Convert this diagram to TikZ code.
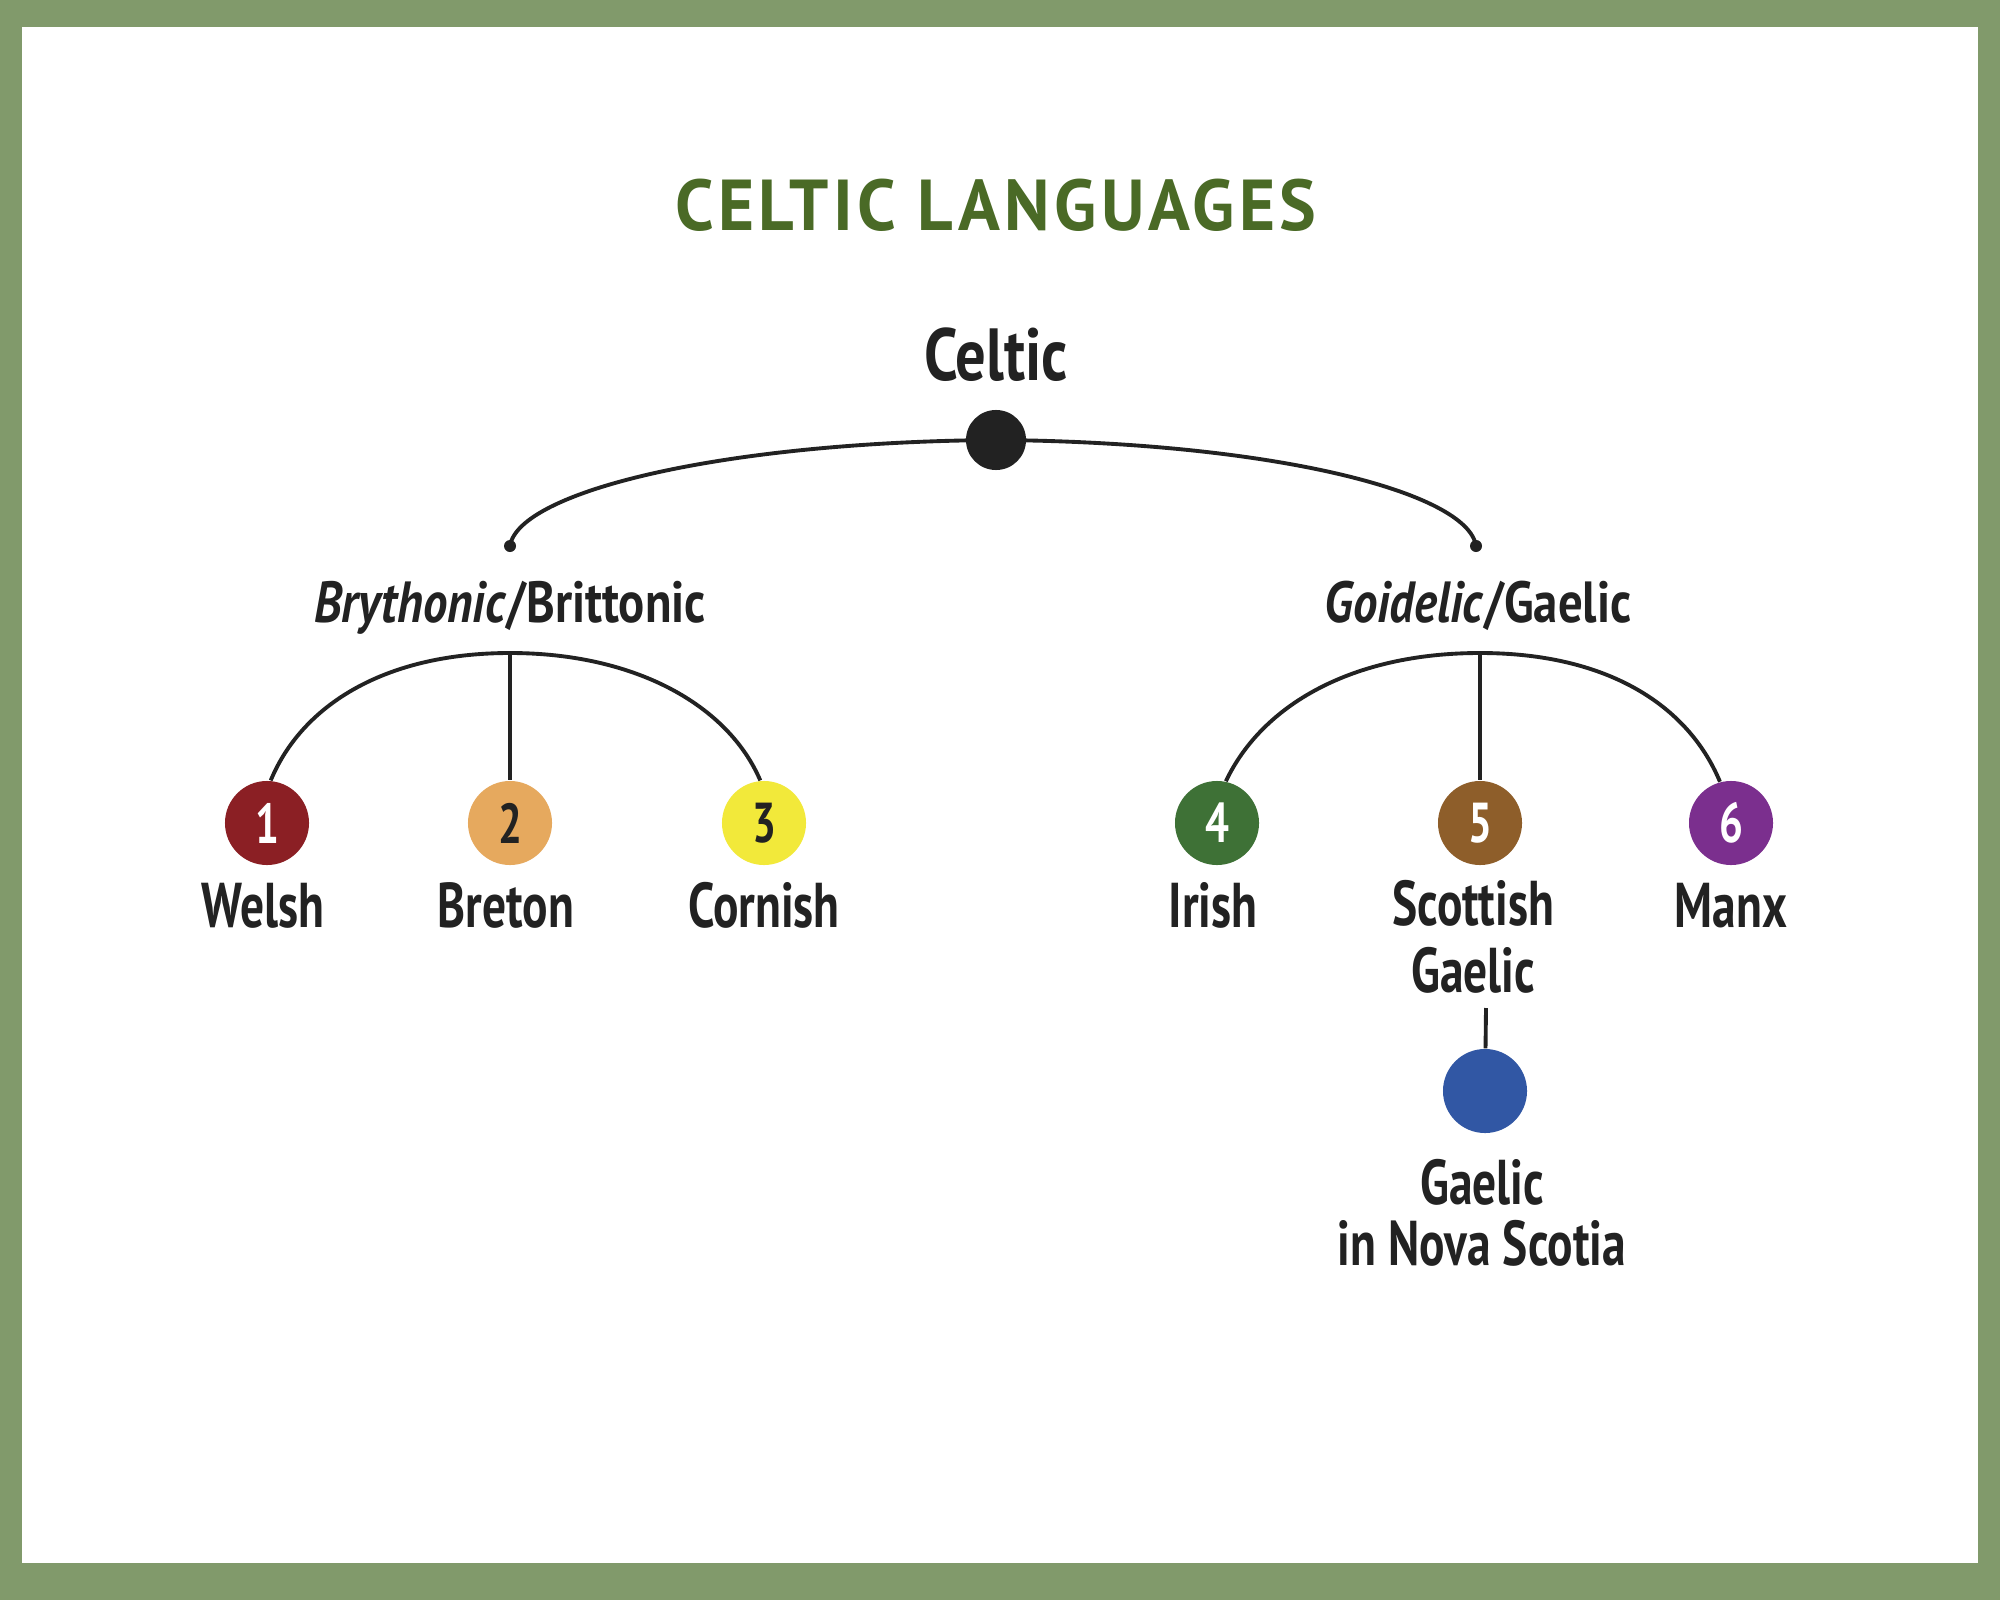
\documentclass[tikz,border=0pt]{standalone}
\usepackage{fontspec}
\setmainfont{PT Sans}
\newfontfamily\labfont[FakeStretch=0.75]{PT Sans}
\newfontfamily\rootfont[FakeStretch=0.82]{PT Sans}
\newfontfamily\branchfont[FakeStretch=0.84]{PT Sans}
\newfontfamily\headfont[FakeStretch=0.96,LetterSpace=6]{PT Sans}
\definecolor{frame}{HTML}{819A6B}
\definecolor{titlegreen}{HTML}{4A6A26}
\definecolor{ink}{HTML}{222222}
\definecolor{welsh}{HTML}{8B1F24}
\definecolor{breton}{HTML}{E6A95E}
\definecolor{cornish}{HTML}{F2E93A}
\definecolor{irish}{HTML}{3E7136}
\definecolor{scottish}{HTML}{8E5E2A}
\definecolor{manx}{HTML}{7B2F8E}
\definecolor{nova}{HTML}{3157A4}
\usetikzlibrary{positioning}

\begin{document}
\begin{tikzpicture}[x=0.01cm,y=-0.01cm,
  link/.style={draw=ink,line width=1.1pt},
  langdot/.style={circle,draw=none,minimum size=0.84cm,inner sep=0pt,font=\labfont\bfseries\fontsize{16}{16}\selectfont,text=white},
  langname/.style={anchor=base,align=center,text=ink,font=\labfont\bfseries\fontsize{18}{18.8}\selectfont},
  branchname/.style={anchor=base,text=ink,font=\branchfont\bfseries\fontsize{16.5}{18}\selectfont}]
\useasboundingbox (0,0) rectangle (2000,1600);
\fill[frame] (0,0) rectangle (2000,1600);
\fill[white] (22,27) rectangle (1978,1563);

\node[anchor=base,text=titlegreen,font=\headfont\bfseries\fontsize{20.5}{22}\selectfont] (title) at (996,230) {CELTIC LANGUAGES};
\node[anchor=base,text=ink,font=\rootfont\bfseries\fontsize{21}{22}\selectfont] (celtic) at (996,380) {Celtic};

\node[circle,fill=ink,minimum width=0.58cm,minimum height=0.6cm,inner sep=0pt] (root) at (996,440) {};
\node[circle,fill=ink,minimum size=0.12cm,inner sep=0pt] (bdot) at (510,546) {};
\node[circle,fill=ink,minimum size=0.12cm,inner sep=0pt] (gdot) at (1476,546) {};
\draw[link] (bdot.center) .. controls (518,492) and (720,442) .. (root.center)
  .. controls (1272,442) and (1468,492) .. (gdot.center);

\node[branchname] (bryth) at (510,622) {\itshape Brythonic\/\upshape/Brittonic};
\node[branchname] (goid) at (1478,622) {\itshape Goidelic\/\upshape/Gaelic};

\node[langdot,fill=welsh] (c1) at (267,823) {1};
\node[langdot,fill=breton,text=ink] (c2) at (510,823) {2};
\node[langdot,fill=cornish,text=ink] (c3) at (764,823) {3};
\node[langdot,fill=irish] (c4) at (1217,823) {4};
\node[langdot,fill=scottish] (c5) at (1480,823) {5};
\node[langdot,fill=manx] (c6) at (1731,823) {6};
\node[langdot,fill=nova] (c7) at (1485,1091) {};

\coordinate (bhub) at (510,653);
\coordinate (ghub) at (1480,653);
\draw[link] (c1.85) .. controls (302,705) and (385,653) .. (bhub)
  .. controls (635,653) and (728,705) .. (c3.95);
\draw[link] (bhub) -- (c2);
\draw[link] (c4.78) .. controls (1262,705) and (1352,653) .. (ghub)
  .. controls (1607,653) and (1688,705) .. (c6.105);
\draw[link] (ghub) -- (c5);

\node[langname] (welsh) at (263,927) {Welsh};
\node[langname] (breton) at (506,927) {Breton};
\node[langname] (cornish) at (764,927) {Cornish};
\node[langname] (irish) at (1213,927) {Irish};
\node[langname] (scottish) at (1473,992) {Scottish\\Gaelic};
\node[langname] (manx) at (1731,927) {Manx};
\node[langname,font=\labfont\bfseries\fontsize{18}{17.2}\selectfont] (novaname) at (1482,1265) {Gaelic\\in Nova Scotia};

\coordinate (nstem) at (1486,1008);
\draw[link] (nstem) -- (c7);
\end{tikzpicture}
\end{document}
